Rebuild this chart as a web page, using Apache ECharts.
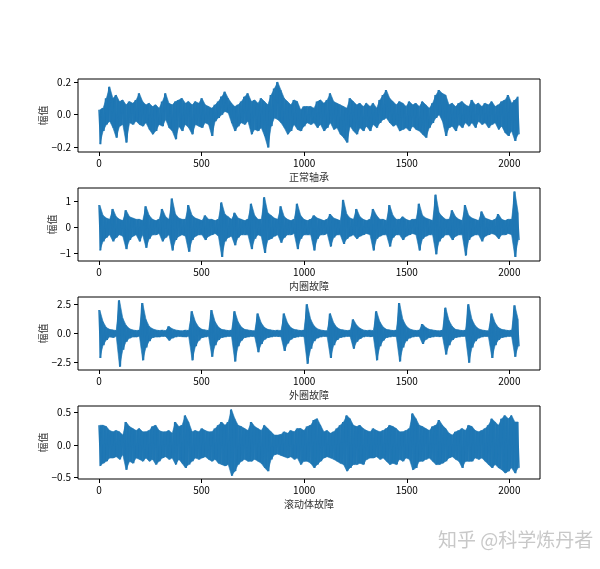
<!DOCTYPE html>
<html><head><meta charset="utf-8">
<script src="https://cdn.jsdelivr.net/npm/echarts@6/dist/echarts.min.js"></script>
<style>html,body{margin:0;padding:0;background:#fff}#c{width:600px;height:569px}</style>
</head><body><div id="c"></div>
<script>
// Envelope readings (per 16-sample bin: local high, local low)
const normalHi = [0.03,0.04,0.10,0.17,0.10,0.12,0.08,0.09, 0.06,0.08,0.07,0.09,0.13,0.08,0.06,0.07,
 0.05,0.06,0.04,0.08,0.13,0.07,0.06,0.08, 0.09,0.10,0.07,0.08,0.06,0.08,0.07,0.10,
 0.06,0.05,0.04,0.06,0.08,0.11,0.14,0.10, 0.07,0.05,0.06,0.08,0.11,0.13,0.08,0.09,
 0.07,0.10,0.08,0.06,0.12,0.16,0.20,0.15, 0.10,0.08,0.06,0.09,0.08,0.03,0.05,0.05,
 0.05,0.04,0.08,0.09,0.07,0.09,0.13,0.08, 0.07,0.06,0.05,0.04,0.10,0.08,0.06,0.07,
 0.05,0.07,0.05,0.07,0.04,0.09,0.12,0.15, 0.10,0.08,0.06,0.08,0.07,0.05,0.08,0.06,
 0.07,0.05,0.08,0.06,0.04,0.07,0.12,0.15, 0.13,0.12,0.06,0.07,0.05,0.07,0.08,0.06,
 0.05,0.09,0.06,0.07,0.05,0.07,0.06,0.08, 0.05,0.06,0.08,0.09,0.12,0.07,0.09,0.11];
const normalLo = [-0.18,-0.10,-0.06,-0.04,-0.08,-0.14,-0.07,-0.06, -0.17,-0.05,-0.06,-0.04,-0.06,-0.07,-0.05,-0.09,
 -0.12,-0.10,-0.06,-0.07,-0.03,-0.08,-0.10,-0.15, -0.07,-0.10,-0.06,-0.08,-0.12,-0.06,-0.07,-0.08,
 -0.05,-0.06,-0.13,-0.04,-0.02,0.00,0.02,0.01, -0.05,-0.10,-0.07,-0.05,-0.06,-0.04,-0.12,-0.09,
 -0.10,-0.08,-0.13,-0.20,-0.07,-0.02,-0.03,-0.05, -0.08,-0.12,-0.10,-0.06,-0.09,-0.10,-0.07,-0.05,
 -0.06,-0.05,-0.08,-0.06,-0.10,-0.08,-0.05,-0.09, -0.08,-0.12,-0.14,-0.17,-0.07,-0.10,-0.12,-0.08,
 -0.10,-0.07,-0.10,-0.06,-0.08,-0.05,-0.03,-0.02, -0.05,-0.07,-0.06,-0.10,-0.09,-0.08,-0.10,-0.07,
 -0.09,-0.10,-0.12,-0.14,-0.08,-0.05,-0.02,0.00, -0.04,-0.13,-0.08,-0.07,-0.10,-0.06,-0.08,-0.05,
 -0.07,-0.05,-0.08,-0.04,-0.06,-0.05,-0.08,-0.06, -0.05,-0.09,-0.07,-0.11,-0.13,-0.10,-0.16,-0.12];

const innerHi = [0.85,0.45,0.35,0.30,0.70,0.40,0.30,0.25, 0.65,0.40,0.35,0.30,0.30,0.25,0.80,0.45,
 0.30,0.25,0.30,0.70,0.40,0.30,1.10,0.50, 0.35,0.30,0.30,0.85,0.45,0.35,0.30,0.25,
 0.45,0.30,0.30,0.25,0.30,0.95,0.50,0.40, 0.30,0.55,0.35,0.30,0.25,0.30,0.90,0.45,
 0.30,0.30,1.15,0.55,0.45,0.35,0.30,0.80, 0.40,0.30,0.25,0.30,0.90,0.45,0.30,0.25,
 0.30,0.45,0.35,0.30,0.25,0.30,0.50,0.35, 0.30,0.25,1.05,0.50,0.35,0.30,0.70,0.40,
 0.30,0.25,0.30,0.70,0.45,0.30,0.30,0.25, 0.85,0.45,0.30,0.30,0.40,0.30,0.25,0.30,
 0.30,0.90,0.45,0.35,0.30,0.25,1.25,0.55, 0.40,0.30,0.30,0.65,0.40,0.30,0.25,0.85,
 0.45,0.35,0.30,0.25,0.60,0.35,0.30,0.25, 0.30,0.50,0.30,0.25,0.30,0.30,1.37,0.55];
const innerLo = [-0.90,-0.55,-0.40,-0.30,-0.55,-0.40,-0.30,-0.35, -0.85,-0.50,-0.35,-0.30,-0.55,-0.30,-0.80,-0.45,
 -0.30,-0.30,-0.25,-0.55,-0.40,-0.30,-0.90,-0.50, -0.35,-0.30,-0.35,-0.95,-0.50,-0.35,-0.30,-0.30,
 -0.50,-0.35,-0.30,-0.25,-0.35,-1.15,-0.55,-0.40, -0.35,-0.70,-0.40,-0.30,-0.30,-0.30,-0.85,-0.45,
 -0.30,-0.35,-1.00,-0.50,-0.45,-0.35,-0.30,-0.60, -0.40,-0.30,-0.30,-0.25,-0.85,-0.45,-0.30,-0.30,
 -0.30,-0.90,-0.45,-0.30,-0.30,-0.25,-0.75,-0.40, -0.30,-0.30,-0.65,-0.45,-0.35,-0.30,-0.45,-0.35,
 -0.30,-0.25,-0.30,-0.90,-0.45,-0.35,-0.30,-0.30, -0.75,-0.40,-0.30,-0.30,-0.50,-0.35,-0.30,-0.25,
 -0.30,-0.90,-0.45,-0.35,-0.30,-0.30,-1.05,-0.55, -0.40,-0.30,-0.30,-0.50,-0.35,-0.30,-0.30,-1.10,
 -0.50,-0.35,-0.30,-0.30,-0.55,-0.35,-0.30,-0.25, -0.30,-0.45,-0.30,-0.30,-0.25,-0.30,-1.15,-0.50];

const outerHi = [2.00,1.00,0.50,0.35,0.30,0.25,2.83,1.30, 0.70,0.40,0.30,0.25,0.28,2.60,1.20,0.60,
 0.40,0.30,0.25,0.28,0.24,0.60,0.40,0.30, 0.25,0.22,0.28,0.25,1.90,1.00,0.55,0.35,
 0.30,0.25,2.00,1.00,0.55,0.35,0.30,0.25, 0.28,1.90,1.00,0.55,0.35,0.30,0.25,0.22,
 1.70,0.90,0.50,0.35,0.30,0.25,0.28,0.24, 1.70,0.90,0.50,0.35,0.30,0.25,0.28,2.50,
 1.20,0.65,0.40,0.30,0.25,0.22,1.70,0.90, 0.50,0.35,0.30,0.25,0.28,1.20,0.70,0.45,
 0.30,0.25,0.28,0.24,1.90,1.00,0.55,0.35, 0.30,0.25,0.28,2.60,1.20,0.65,0.40,0.30,
 0.25,0.28,0.80,0.50,0.35,0.30,0.25,0.22, 0.28,2.20,1.10,0.60,0.35,0.30,0.25,0.28,
 2.50,1.20,0.65,0.40,0.30,0.25,0.22,1.70, 0.90,0.50,0.35,0.30,0.25,0.28,2.40,1.20];
const outerLo = [-2.10,-1.00,-0.55,-0.30,-0.35,-0.25,-2.84,-1.40, -0.70,-0.40,-0.30,-0.30,-0.25,-2.30,-1.20,-0.65,
 -0.35,-0.30,-0.30,-0.25,-0.26,-0.60,-0.40,-0.30, -0.25,-0.28,-0.30,-0.25,-2.30,-1.10,-0.60,-0.35,
 -0.30,-0.25,-2.00,-1.00,-0.55,-0.35,-0.30,-0.25, -0.26,-2.40,-1.10,-0.60,-0.35,-0.30,-0.25,-0.28,
 -1.60,-0.90,-0.50,-0.35,-0.30,-0.25,-0.26,-0.28, -1.50,-0.85,-0.50,-0.35,-0.30,-0.25,-0.28,-2.60,
 -1.30,-0.65,-0.40,-0.30,-0.25,-0.28,-2.10,-1.00, -0.55,-0.35,-0.30,-0.25,-0.26,-1.30,-0.70,-0.45,
 -0.30,-0.25,-0.28,-0.26,-2.30,-1.10,-0.60,-0.35, -0.30,-0.25,-0.28,-2.40,-1.20,-0.65,-0.40,-0.30,
 -0.25,-0.26,-0.90,-0.50,-0.35,-0.30,-0.25,-0.28, -0.26,-1.80,-1.00,-0.55,-0.35,-0.30,-0.25,-0.26,
 -2.50,-1.20,-0.65,-0.40,-0.30,-0.25,-0.28,-2.10, -1.00,-0.55,-0.35,-0.30,-0.25,-0.26,-2.00,-1.10];

const ballHi = [0.30,0.30,0.28,0.22,0.20,0.22,0.20,0.15, 0.35,0.28,0.25,0.22,0.25,0.20,0.20,0.22,
 0.28,0.30,0.22,0.20,0.20,0.22,0.18,0.35, 0.28,0.30,0.45,0.35,0.20,0.22,0.20,0.25,
 0.22,0.20,0.20,0.25,0.30,0.35,0.30,0.35, 0.54,0.40,0.30,0.28,0.25,0.22,0.35,0.28,
 0.25,0.22,0.30,0.25,0.20,0.15,0.15,0.16, 0.20,0.18,0.22,0.20,0.25,0.25,0.22,0.28,
 0.30,0.38,0.40,0.30,0.20,0.22,0.18,0.20, 0.25,0.30,0.35,0.45,0.40,0.30,0.28,0.30,
 0.25,0.22,0.20,0.25,0.22,0.20,0.22,0.25, 0.30,0.28,0.25,0.20,0.20,0.22,0.25,0.48,
 0.40,0.30,0.28,0.25,0.22,0.28,0.30,0.38, 0.30,0.25,0.18,0.15,0.20,0.22,0.25,0.22,
 0.30,0.28,0.22,0.20,0.22,0.25,0.30,0.40, 0.35,0.30,0.40,0.45,0.40,0.45,0.35,0.35];
const ballLo = [-0.32,-0.28,-0.25,-0.20,-0.20,-0.18,-0.22,-0.15, -0.38,-0.25,-0.28,-0.20,-0.22,-0.25,-0.20,-0.25,
 -0.22,-0.30,-0.25,-0.20,-0.18,-0.22,-0.20,-0.30, -0.22,-0.28,-0.35,-0.30,-0.25,-0.20,-0.22,-0.20,
 -0.18,-0.22,-0.25,-0.22,-0.28,-0.30,-0.32,-0.30, -0.47,-0.40,-0.30,-0.25,-0.22,-0.25,-0.25,-0.22,
 -0.25,-0.28,-0.35,-0.40,-0.22,-0.15,-0.14,-0.16, -0.18,-0.20,-0.18,-0.22,-0.20,-0.30,-0.25,-0.25,
 -0.28,-0.35,-0.30,-0.25,-0.20,-0.18,-0.20,-0.22, -0.25,-0.28,-0.30,-0.40,-0.35,-0.30,-0.30,-0.28,
 -0.30,-0.22,-0.20,-0.20,-0.18,-0.22,-0.20,-0.25, -0.30,-0.28,-0.30,-0.22,-0.25,-0.20,-0.22,-0.38,
 -0.35,-0.25,-0.25,-0.22,-0.20,-0.25,-0.30,-0.30, -0.28,-0.25,-0.20,-0.18,-0.22,-0.25,-0.35,-0.25,
 -0.25,-0.25,-0.20,-0.22,-0.20,-0.25,-0.30,-0.35, -0.30,-0.35,-0.38,-0.43,-0.40,-0.35,-0.43,-0.35];

const panelNames = ['正常轴承','内圈故障','外圈故障','滚动体故障'];
const yTickVals = [[-0.2,0,0.2],[-1,0,1],[-2.5,0,2.5],[-0.5,0,0.5]];
const yTickLabels = [['−0.2','0.0','0.2'],['−1','0','1'],['−2.5','0.0','2.5'],['−0.5','0.0','0.5']];
const yLimits = [[-0.228,0.218],[-1.31,1.51],[-3.13,3.12],[-0.52,0.594]];
const xTickVals = [0,500,1000,1500,2000];
const xTickLabels = ['0','500','1000','1500','2000'];
const nSamples = 2048;
const yLabel = '幅值';

const envelopes = [[normalHi,normalLo],[innerHi,innerLo],[outerHi,outerLo],[ballHi,ballLo]];
function sampleAt(pos, nPts){ return Math.round(pos*(nSamples-1)/(nPts-1)); }
function buildLine(hi, lo){
  const out = [], n = hi.length*2;
  for(let i=0;i<hi.length;i++){
    out.push([sampleAt(2*i,n), hi[i]]);
    out.push([sampleAt(2*i+1,n), lo[i]]);
  }
  return out;
}
// band segments: [x0, lo0, hi0, x1, lo1, hi1] between consecutive bins
function buildBand(hi, lo){
  const out = [], n = hi.length*2;
  for(let i=0;i<hi.length-1;i++){
    out.push([sampleAt(2*i+0.5,n), lo[i], hi[i], sampleAt(2*i+2.5,n), lo[i+1], hi[i+1]]);
  }
  return out;
}

const tops = [79,188,297,406];
const yNameGaps = [30,21,30,30];
const font = '"Noto Sans CJK SC", "DejaVu Sans", sans-serif';
const C0 = '#1f77b4';
const grids=[], xAxes=[], yAxes=[], series=[];
for(let k=0;k<4;k++){
  grids.push({left:78, width:462, top:tops[k], height:73, show:true, borderColor:'#000', borderWidth:1, backgroundColor:'transparent'});
  xAxes.push({type:'value', gridIndex:k, min:-102.35, max:2149.35,
    axisLine:{show:false, onZero:false}, splitLine:{show:false},
    axisTick:{show:true, inside:false, length:4, lineStyle:{color:'#000'}, customValues:xTickVals},
    axisLabel:{show:true, margin:6, color:'#000', fontSize:10, fontFamily:font, customValues:xTickVals,
      formatter:(v)=>{const i=xTickVals.indexOf(v);return i>=0?xTickLabels[i]:'';}},
    name:panelNames[k], nameLocation:'middle', nameGap:20,
    nameTextStyle:{color:'#333', fontSize:10, fontFamily:font}});
  const tv=yTickVals[k], tl=yTickLabels[k];
  yAxes.push({type:'value', gridIndex:k, min:yLimits[k][0], max:yLimits[k][1],
    axisLine:{show:false, onZero:false}, splitLine:{show:false},
    axisTick:{show:true, inside:false, length:4, lineStyle:{color:'#000'}, customValues:tv},
    axisLabel:{show:true, margin:7, color:'#000', fontSize:10, fontFamily:font, customValues:tv,
      formatter:(v)=>{let b=-1;for(let j=0;j<tv.length;j++){if(Math.abs(tv[j]-v)<1e-9)b=j;}return b>=0?tl[b]:'';}},
    name:yLabel, nameLocation:'middle', nameGap:yNameGaps[k], nameRotate:90, nameMoveOverlap:false,
    nameTextStyle:{color:'#333', fontSize:10, fontFamily:font}});
  const hi=envelopes[k][0], lo=envelopes[k][1];
  series.push({type:'custom', xAxisIndex:k, yAxisIndex:k, data:buildBand(hi, lo), silent:true, z:1, clip:true,
    encode:{x:[0,3], y:[1,2,4,5]},
    renderItem:function(params, api){
      const a=api.coord([api.value(0),api.value(1)]), b=api.coord([api.value(0),api.value(2)]);
      const c=api.coord([api.value(3),api.value(5)]), d=api.coord([api.value(3),api.value(4)]);
      return {type:'polygon', shape:{points:[a,b,c,d]}, style:{fill:C0, stroke:C0, lineWidth:0.6}};
    }});
  series.push({type:'line', xAxisIndex:k, yAxisIndex:k, data:buildLine(hi, lo),
    showSymbol:false, symbol:'none', sampling:null, clip:true, z:2,
    lineStyle:{color:C0, width:1.5}, itemStyle:{color:C0}});
}

const chart = echarts.init(document.getElementById('c'), null, {renderer:'canvas'});
chart.setOption({
  animation:false, backgroundColor:'#fff',
  grid:grids, xAxis:xAxes, yAxis:yAxes, series:series,
  graphic:[{type:'text', left:438, top:530, style:{text:'知乎 @科学炼丹者', fill:'#c8c8c8', font:'19px "Noto Sans CJK SC", sans-serif'}}]
});
</script></body></html>
